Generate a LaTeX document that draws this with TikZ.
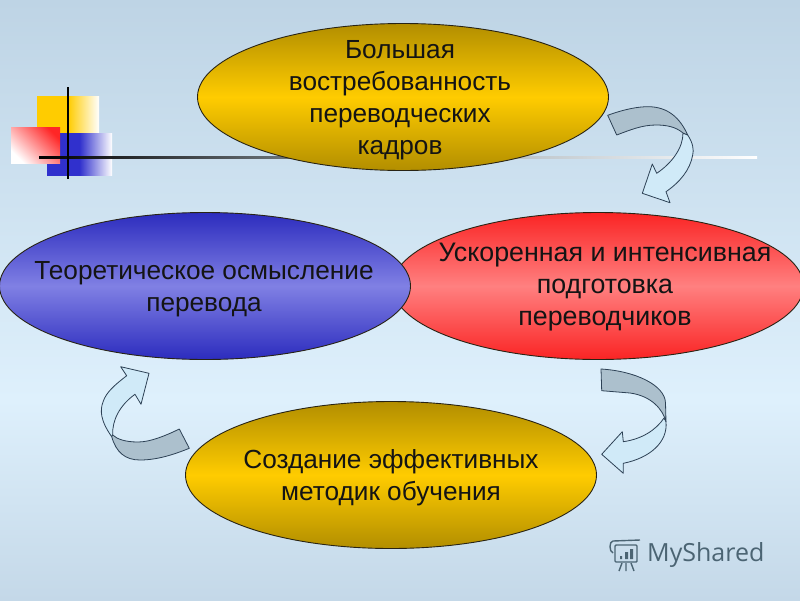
\documentclass[tikz,border=0pt]{standalone}
\usepackage{fontspec}
\setmainfont{Liberation Sans}
\newfontfamily\wmfont{Open Sans}
\usetikzlibrary{shapes.geometric}
\definecolor{bgtop}{RGB}{190,212,229}
\definecolor{bgmid}{RGB}{222,240,252}
\definecolor{bgbot}{RGB}{196,216,232}
\definecolor{edgec}{RGB}{40,35,20}
\definecolor{arrowline}{RGB}{45,65,85}
\definecolor{wm}{RGB}{75,100,115}
\definecolor{goldmid}{RGB}{255,204,0}
\definecolor{goldend}{RGB}{178,142,0}
\definecolor{bluemid}{RGB}{128,128,228}
\definecolor{blueend}{RGB}{44,44,190}
\definecolor{redmid}{RGB}{255,128,128}
\definecolor{redend}{RGB}{250,36,36}
\definecolor{bandfill}{RGB}{172,192,205}
\definecolor{headfill}{RGB}{208,234,248}
\definecolor{squareblue}{RGB}{48,48,205}
\tikzset{
  x=1pt,y=-1pt,
  oval/.style={ellipse,draw=edgec,line width=0.9pt,inner sep=0pt,minimum width=411pt,minimum height=147pt},
  gold/.style={oval,top color=goldend,bottom color=goldend,middle color=goldmid},
  bluee/.style={oval,top color=blueend,bottom color=blueend,middle color=bluemid},
  rede/.style={oval,top color=redend,bottom color=redend,middle color=redmid},
  lab/.style={align=center,font=\fontsize{26.2}{32}\selectfont,inner sep=0pt,text=black!92},
  band/.style={draw=arrowline,line width=0.8pt,fill=bandfill,line join=round},
  head/.style={draw=arrowline,line width=0.8pt,fill=headfill,line join=round},
  wmline/.style={draw=wm,line width=1.4pt},
}
\begin{document}
\begin{tikzpicture}
\useasboundingbox (0,0) rectangle (800,600);
% background
\fill[top color=bgtop,bottom color=bgmid] (0,0) rectangle (800,400);
\fill[top color=bgmid,bottom color=bgbot] (0,400) rectangle (800,600);
% decoration squares
\fill[left color=goldmid,right color=white,middle color=goldmid] (37,96) rectangle (99,140);
\fill[left color=squareblue,right color=white,middle color=squareblue] (47,133) rectangle (112,175);
\fill[top color=red!85!white,bottom color=white,shading angle=-45] (11,127) rectangle (60,163);
\fill[left color=black,right color=black!30!bgmid] (39,156) rectangle (400,158);
\fill[left color=black!30!bgmid,right color=white] (400,156) rectangle (757,158.5);
\fill[black] (66.8,87) rectangle (69,179);
% ovals
\node[gold] (top) at (403,97) {};
\node[rede] (right) at (598,286) {};
\node[bluee] (left) at (205,286) {};
\node[gold] (bottom) at (391,475) {};
% labels
\node[lab] (t1) at (400,100) {Большая\\востребованность\\переводческих\\кадров};
\node[lab,font=\fontsize{26.8}{32}\selectfont] (t2) at (605,287) {Ускоренная и интенсивная\\подготовка\\переводчиков};
\node[lab] (t3) at (204,289) {Теоретическое осмысление\\перевода};
\node[lab] (t4) at (391,478) {Создание эффективных\\методик обучения};
% arrow 1
\draw[head] (687.7,135) .. controls (693,143) and (694,150) .. (692.7,155) .. controls (690,170) and (680,182) .. (666,191.7) -- (670,202.7) -- (642.3,193.3) -- (652.3,164) -- (656.7,173.3) .. controls (672,163) and (683,148) .. (683,133) -- cycle;
\draw[band] (607.7,115.3) .. controls (625,109) and (638,106.7) .. (648,106.7) .. controls (668,106.7) and (680,118) .. (687.7,135) -- (683,133) .. controls (676,127) and (667,125) .. (656,125) .. controls (642,125) and (630,130) .. (616.7,135) -- cycle;
% arrow 2
\draw[head] (666,421.7) .. controls (668,442) and (650,458) .. (623.3,463.3) -- (623.3,473.3) -- (601.7,454.3) -- (622.3,431.7) -- (623.3,441.7) .. controls (642,439) and (656,430) .. (664,418) -- cycle;
\draw[band] (601,369) .. controls (635,371) and (665,385) .. (665.5,403) -- (666,421.7) .. controls (663,410) and (652,396) .. (630,393) -- (601.7,390.7) -- cycle;
% arrow 3
\draw[head] (111.7,436.7) .. controls (100,420) and (100,410) .. (103,402) .. controls (106,392) and (116,384) .. (126.7,375.7) -- (120.7,366.7) -- (149,373.3) -- (141,404.3) -- (135,394.3) .. controls (120,405) and (112,420) .. (112.7,435) -- cycle;
\draw[band] (189.3,448.3) -- (179.3,429) .. controls (165,436) and (150,442) .. (138,442) .. controls (125,442) and (117,439) .. (112.7,435) -- (111.7,436.7) .. controls (116,452) and (125,460) .. (140,460) .. controls (158,460) and (175,454) .. (189.3,448.3) -- cycle;
% watermark
\node[font=\wmfont\fontsize{25}{30}\selectfont,text=wm,anchor=west,inner sep=0pt] (wmtext) at (647,555) {MyShared};
\draw[wmline] (613,541) -- (640,540);
\draw[wmline] (613,541) .. controls (609,541) and (609,552) .. (613,553);
\draw[wmline,rounded corners=1pt] (615,545) rectangle (637,562);
\fill[wm] (620,556) rectangle (622,559) (625,552) rectangle (628,559) (630,549) rectangle (633,559);
\draw[wmline] (622,563) -- (619,571) (626,563) -- (626,571) (631,563) -- (634,571);
\end{tikzpicture}
\end{document}
